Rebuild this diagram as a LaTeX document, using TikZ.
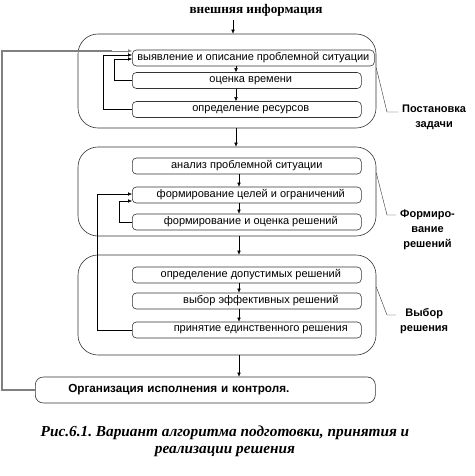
\documentclass[tikz,border=0pt]{standalone}
\usepackage{fontspec}
\setmainfont{Liberation Serif}
\setsansfont{Liberation Sans}
\usetikzlibrary{arrows.meta}
\frenchspacing

\begin{document}
\begin{tikzpicture}[x=1pt,y=-1pt,
  stage/.style={draw=black!80,line width=0.6pt,rounded corners=20pt,minimum width=298pt},
  task/.style={draw=black!80,line width=0.6pt,rounded corners=4pt,minimum height=16pt,inner sep=0pt,
    minimum width=229pt,anchor=west,font=\sffamily\fontsize{11}{12}\selectfont},
  side/.style={anchor=west,inner sep=4pt,align=center,font=\sffamily\bfseries\fontsize{11}{15}\selectfont},
  arr/.style={-{Latex[length=4pt,width=3.5pt]}},
  back/.style={draw=gray,line width=1.4pt}]
\useasboundingbox (0,0) rectangle (474,476);
\def\colr{black!80}

\coordinate (a0) at (233,0);
\coordinate (a1) at (236,0);
\coordinate (a2) at (239,0);

\node[font=\bfseries\fontsize{13.2}{15}\selectfont] (title) at (256,10) {внешняя информация};

% groups
\node[stage,minimum height=94pt] (g1) at (227,81) {};
\node[stage,minimum height=89pt] (g2) at (227,191.5) {};
\node[stage,minimum height=100pt] (g3) at (227,305) {};

% steps of the first group
\node[task,minimum width=242pt] (b11) at (132,58) {выявление и описание проблемной  ситуации};
\node[task] (b12) at (132,80.5) {\hspace{8pt}оценка времени};
\node[task] (b13) at (132,109.5) {\hspace{8pt}определение ресурсов};

% steps of the second group
\node[task] (b21) at (132,166) {анализ проблемной ситуации};
\node[task] (b22) at (132,195) {\hspace{8pt}формирование целей и ограничений};
\node[task] (b23) at (132,222) {\hspace{8pt}формирование и оценка решений};

% steps of the third group
\node[task] (b31) at (132,275) {\hspace{8pt}определение допустимых решений};
\node[task] (b32) at (132,301) {\hspace{28pt}выбор эффективных решений};
\node[task] (b33) at (132,330) {\hspace{28pt}принятие единственного решения};

\node[task,minimum width=340pt,minimum height=26pt,rounded corners=8pt,
  inner xsep=33pt,text width=274pt,align=left,font=\sffamily\bfseries\fontsize{11.7}{13}\selectfont]
  (org) at (35,390) {Организация исполнения и контроля.};

\draw[arr] (title.south -| a0) -- (g1.north -| a0);
\draw[arr] (b11.south -| a1) -- (b12.north -| a1);
\draw[arr] (b12.south -| a1) -- (b13.north -| a1);
\draw[arr] (g1.south -| a1) -- (g2.north -| a1);
\draw[arr] (b21.south -| a2) -- (b22.north -| a2);
\draw[arr] (b22.south -| a2) -- (b23.north -| a2);
\draw[arr] (g2.south -| a2) -- (g3.north -| a2);
\draw[arr] (b31.south -| a2) -- (b32.north -| a2);
\draw[arr] (b32.south -| a2) -- (b33.north -| a2);
\draw[arr] (g3.south -| a2) -- (org.north -| a2);

% feedback
\draw[arr] (b12.west) -- ++(-18,0) |- ([shift={(0,1)}]b11.west);
\draw[arr] (b13.west) -- ++(-29,0) |- ([shift={(0,-3)}]b11.west);
\draw[arr] (b23.west) -- ++(-13,0) |- ([shift={(0,6)}]b22.west);
\draw[arr] (b33.west) -- ++(-35,0) |- ([shift={(0,-1)}]b22.west);
\draw[back] (org.west) -- ++(-33,0) |- ([shift={(-20,-7)}]b11.west);
\draw[arr,gray] ([shift={(-20,-7)}]b11.west) -- ([shift={(0,-7)}]b11.west);

% side labels
\node[side] (lbl1) at (398,117.5) {Постановка\\задачи};
\node[side] (lbl2) at (396,229.5) {Формиро-\\вание\\решений};
\node[side] (lbl3) at (396,321) {Выбор\\решения};
\draw[\colr] ([shift={(0,-13)}]g1.east) -- ([shift={(-11,-5.5)}]lbl1.west) -- ([shift={(0,-5.5)}]lbl1.west);
\draw[\colr] ([shift={(0,-18.5)}]g2.east) -- ([shift={(-9,-14.5)}]lbl2.west) -- ([shift={(0,-14.5)}]lbl2.west);
\draw[\colr] ([shift={(0,-18)}]g3.east) -- ([shift={(-9,-6)}]lbl3.west) -- ([shift={(0,-6)}]lbl3.west);

\node[align=center,font=\bfseries\itshape\fontsize{15.3}{17}\selectfont] (cap) at (225,441.5)
  {Рис.6.1. Вариант алгоритма подготовки, принятия и\\реализации решения};
\end{tikzpicture}
\end{document}
